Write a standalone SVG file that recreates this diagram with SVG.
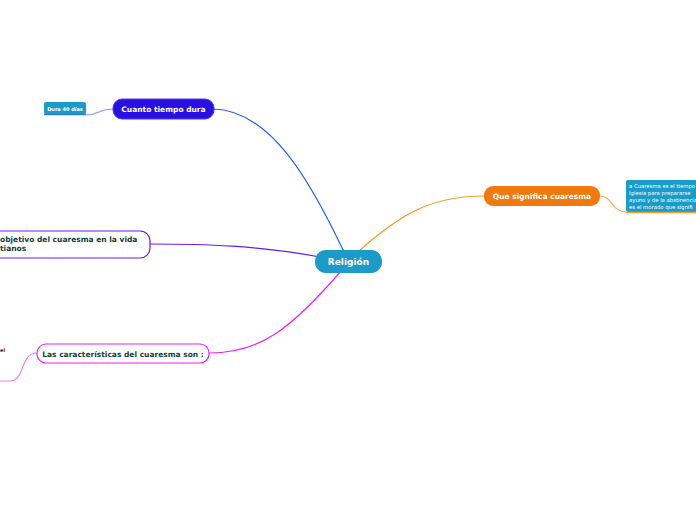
<svg xmlns="http://www.w3.org/2000/svg" width="696" height="520" viewBox="0 0 696 520">
<style>
text{font-family:"DejaVu Sans","Liberation Sans",sans-serif;font-weight:bold}
.c{fill:none;stroke-width:1.2}
</style>
<rect width="696" height="520" fill="#fff"/>
<g id="connectors">
<path class="c" stroke="#2a5cf5" d="M344,252 C310,180 270,110 213,109"/>
<path class="c" stroke="#6a1cf0" d="M325,258 C260,245 200,244 150,244"/>
<path class="c" stroke="#f020f0" d="M342,270 C290,330 260,353 209,353"/>
<path class="c" stroke="#f5a030" d="M360,250 C400,215 430,196 484,196"/>
<path class="c" stroke="#8aa0f0" d="M113,109 C98,109 100,115 86,115"/>
<path class="c" stroke="#f5b060" d="M600,196 C612,196 612,212 626,212"/>
<path class="c" stroke="#f080f0" d="M37,353 C20,353 25,381 10,381 L0,381"/>
</g>
<g id="root"><rect x="315" y="250" width="67" height="23" rx="11" fill="#1a9bc8"/><text x="348.5" y="265" font-size="9" fill="#fff" text-anchor="middle">Religión</text></g>
<g id="n1"><rect x="113" y="99" width="101" height="20" rx="9" fill="#2a10e0" stroke="#4a3cf0"/><text x="163.5" y="112" font-size="7.5" fill="#fff" text-anchor="middle">Cuanto tiempo dura</text></g>
<g id="n1a"><rect x="44" y="102" width="42" height="12" rx="2" fill="#1a9bc8"/><line x1="44" y1="114.5" x2="86" y2="114.5" stroke="#2a7ad0" stroke-width="1.5"/><text x="65" y="110.5" font-size="5" font-weight="normal" fill="#fff" text-anchor="middle">Dura 40 días</text></g>
<g id="n2"><rect x="-20" y="231" width="170" height="27" rx="10" fill="#fff" stroke="#6a1cf0" stroke-width="1.2"/><text x="0" y="242" font-size="7.5" fill="#12403a">objetivo del cuaresma en la vida</text><text x="0" y="251" font-size="7.5" fill="#12403a">tianos</text></g>
<g id="n3"><rect x="37" y="344" width="172" height="19" rx="9" fill="#fff" stroke="#f020f0" stroke-width="1.2"/><text x="123" y="357" font-size="7.5" fill="#12403a" text-anchor="middle">Las características del cuaresma son :</text><text x="0" y="352" font-size="5" fill="#333">el</text></g>
<g id="n4"><rect x="484" y="186" width="116" height="20" rx="9" fill="#f07a10"/><text x="542" y="199" font-size="7.5" fill="#fff" text-anchor="middle">Que significa cuaresma</text></g>
<g id="n4a"><rect x="626" y="180" width="80" height="32" rx="2" fill="#1a9bc8"/><line x1="626" y1="212.5" x2="696" y2="212.5" stroke="#f5a030" stroke-width="1.5"/><g font-size="5.3" font-weight="normal" fill="#fff"><text x="629" y="187.5" style="font-weight:normal">a Cuaresma es el tiempo</text><text x="629" y="194.5" style="font-weight:normal">Iglesia para prepararse</text><text x="629" y="201.5" style="font-weight:normal">ayuno y de la abstinencia</text><text x="629" y="208.5" style="font-weight:normal">es el morado que signifi</text></g></g>
</svg>
